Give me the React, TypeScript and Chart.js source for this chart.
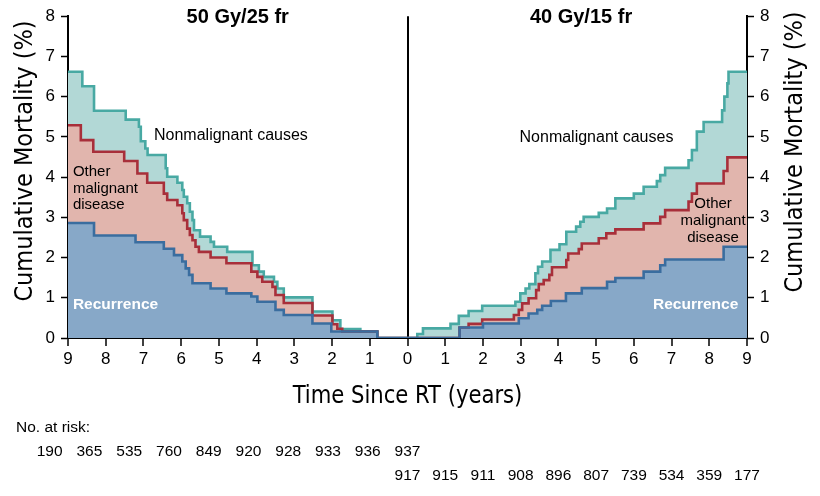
import { useEffect, useRef } from 'react';
import { Chart, registerables } from 'chart.js';

Chart.register(...registerables);

// ---- data (years since RT, cumulative mortality %) ----
// left panel: 50 Gy/25 fr (time runs right-to-left)
const leftBlueT = [0.8, 2.02, 2.52, 3.28, 3.5, 3.98, 4.14, 4.8, 5.22, 5.7, 5.79, 5.88, 5.97, 6.19, 6.46, 7.21, 8.31];
const leftBlueV = [0.16, 0.36, 0.57, 0.7, 0.9, 1.03, 1.11, 1.23, 1.36, 1.57, 1.73, 1.9, 2.06, 2.22, 2.38, 2.55, 2.86];

const leftRedT = [0.8, 1.73, 1.86, 1.99, 2.52, 3.28, 3.5, 3.58, 3.85, 3.98, 4.14, 4.8, 5.22, 5.53, 5.62, 5.7, 5.77, 5.84, 5.93, 5.97, 6.1, 6.37, 6.46, 6.9, 7.16, 7.51, 8.33, 8.66];
const leftRedV = [0.16, 0.23, 0.34, 0.56, 0.87, 1.07, 1.27, 1.4, 1.52, 1.65, 1.86, 2.0, 2.14, 2.27, 2.43, 2.56, 2.72, 2.93, 3.1, 3.3, 3.43, 3.59, 3.86, 4.09, 4.4, 4.63, 4.92, 5.29];

const leftTealT = [0.8, 1.25, 1.78, 1.99, 2.52, 3.28, 3.45, 3.54, 3.81, 3.94, 4.11, 4.78, 5.13, 5.22, 5.5, 5.66, 5.7, 5.77, 5.84, 5.93, 5.97, 6.1, 6.37, 6.41, 6.89, 6.95, 7.07, 7.12, 7.47, 8.31, 8.62];
const leftTealV = [0.16, 0.22, 0.44, 0.66, 1.01, 1.23, 1.4, 1.52, 1.65, 1.81, 2.14, 2.27, 2.39, 2.52, 2.68, 2.93, 3.14, 3.35, 3.51, 3.68, 3.86, 4.01, 4.22, 4.55, 4.71, 4.89, 5.25, 5.43, 5.65, 6.26, 6.62];

// right panel: 40 Gy/15 fr
const rightBlueT = [1.38, 2.0, 2.95, 3.21, 3.44, 3.57, 3.8, 4.2, 4.62, 5.29, 5.51, 6.26, 6.7, 6.83, 8.38];
const rightBlueV = [0.26, 0.36, 0.49, 0.61, 0.7, 0.8, 0.92, 1.11, 1.24, 1.4, 1.49, 1.65, 1.81, 1.95, 2.27];

const rightRedT = [1.38, 1.62, 1.98, 2.82, 2.95, 3.04, 3.21, 3.41, 3.48, 3.61, 3.76, 3.83, 4.21, 4.26, 4.54, 4.62, 5.07, 5.27, 5.51, 6.26, 6.7, 6.83, 7.45, 7.54, 7.67, 8.38, 8.48];
const rightRedV = [0.26, 0.35, 0.46, 0.57, 0.7, 0.86, 0.99, 1.19, 1.34, 1.44, 1.57, 1.76, 1.94, 2.1, 2.21, 2.35, 2.48, 2.6, 2.7, 2.85, 3.01, 3.18, 3.39, 3.59, 3.84, 4.15, 4.49];

const rightTealT = [0.26, 0.41, 1.14, 1.36, 1.62, 1.98, 2.86, 2.99, 3.13, 3.23, 3.39, 3.46, 3.57, 3.79, 4.03, 4.21, 4.47, 4.58, 4.67, 5.07, 5.29, 5.51, 6.0, 6.26, 6.61, 6.7, 6.83, 7.45, 7.54, 7.67, 7.85, 8.34, 8.4, 8.48, 8.51];
const rightTealV = [0.1, 0.24, 0.35, 0.55, 0.67, 0.8, 0.9, 1.11, 1.23, 1.34, 1.61, 1.77, 1.9, 2.19, 2.33, 2.64, 2.77, 2.89, 3.01, 3.11, 3.22, 3.47, 3.59, 3.76, 3.9, 4.05, 4.23, 4.42, 4.67, 5.13, 5.37, 5.66, 6.0, 6.33, 6.62];

const yTicks = [0, 1, 2, 3, 4, 5, 6, 7, 8];
const atRiskLeft = [190, 365, 535, 760, 849, 920, 928, 933, 936, 937]; // at 9..0 years
const atRiskRight = [917, 915, 911, 908, 896, 807, 739, 534, 359, 177]; // at 0..9 years

const BLUE_LINE = '#3a6d9f';
const BLUE_FILL = '#87a8c8';
const RED_LINE = '#a82f3a';
const RED_FILL = '#e1b5ad';
const TEAL_LINE = '#48a9a3';
const TEAL_FILL = '#b2d8d6';

const SANS = '"Liberation Sans", Arial, sans-serif';
const NARROW = '"Liberation Sans Narrow", "DejaVu Sans Condensed", "Liberation Sans", sans-serif';

// left side: x = -t, value holds for t in [t_i, t_i+1)
const leftPoints = (ts: number[], vs: number[]) => {
  const pts = [{ x: -9, y: vs[vs.length - 1] }];
  for (let i = ts.length - 1; i >= 0; i--) pts.push({ x: -ts[i], y: vs[i] });
  pts.push({ x: 0, y: 0 });
  return pts;
};

const rightPoints = (ts: number[], vs: number[]) => {
  const pts = [{ x: 0, y: 0 }];
  ts.forEach((t, i) => pts.push({ x: t, y: vs[i] }));
  pts.push({ x: 9, y: vs[vs.length - 1] });
  return pts;
};

const series = (data: { x: number; y: number }[], line: string, fill: string, stepped: 'before' | 'after') => ({
  data,
  borderColor: line,
  backgroundColor: fill,
  borderWidth: 2.6,
  pointRadius: 0,
  fill: 'origin',
  stepped,
});

const textPlugin = {
  id: 'panelText',
  afterDraw(chart: Chart) {
    const { ctx } = chart;
    const xs = chart.scales.x;
    const ys = chart.scales.y;
    const px = (v: number) => xs.getPixelForValue(v);
    const py = (v: number) => ys.getPixelForValue(v);
    ctx.save();
    ctx.fillStyle = '#000';
    ctx.textBaseline = 'middle';

    // panel titles
    ctx.font = `bold 20px ${SANS}`;
    ctx.textAlign = 'center';
    ctx.fillText('50 Gy/25 fr', px(-4.5), 17);
    ctx.fillText('40 Gy/15 fr', px(4.6), 17);

    // axis titles
    ctx.font = `25px ${NARROW}`;
    ctx.save();
    ctx.translate(px(0), 396);
    ctx.scale(0.94, 1);
    ctx.fillText('Time Since RT (years)', 0, 0);
    ctx.restore();
    ctx.save();
    ctx.translate(25, 161);
    ctx.rotate(-Math.PI / 2);
    ctx.fillText('Cumulative Mortality (%)', 0, 0);
    ctx.restore();
    ctx.save();
    ctx.translate(795, 152);
    ctx.rotate(-Math.PI / 2);
    ctx.fillText('Cumulative Mortality (%)', 0, 0);
    ctx.restore();

    // area labels
    ctx.font = `16px ${SANS}`;
    ctx.textAlign = 'left';
    ctx.fillText('Nonmalignant causes', px(-6.72), py(5.02));
    ctx.fillText('Nonmalignant causes', px(2.97), py(4.97));

    ctx.font = `15px ${SANS}`;
    ['Other', 'malignant', 'disease'].forEach((s, i) => {
      ctx.textAlign = 'left';
      ctx.fillText(s, px(-8.87), py(4.14 - i * 0.42));
      ctx.textAlign = 'center';
      ctx.fillText(s, px(8.1), py(3.34 - i * 0.42));
    });

    ctx.font = `bold 15.5px ${SANS}`;
    ctx.fillStyle = '#fff';
    ctx.textAlign = 'left';
    ctx.fillText('Recurrence', px(-8.87), py(0.82));
    ctx.textAlign = 'right';
    ctx.fillText('Recurrence', px(8.77), py(0.82));

    // numbers at risk
    ctx.fillStyle = '#000';
    ctx.font = `15.5px ${SANS}`;
    ctx.textAlign = 'left';
    ctx.fillText('No. at risk:', 16, 428);
    ctx.textAlign = 'center';
    const step = px(1) - px(0);
    atRiskLeft.forEach((n, i) => {
      ctx.fillText(String(n), px(0) - (atRiskLeft.length - 1 - i) * step * 1.054, 452);
    });
    atRiskRight.forEach((n, i) => {
      ctx.fillText(String(n), px(i), 476);
    });
    ctx.restore();
  },
};

export default function App() {
  const canvasRef = useRef<HTMLCanvasElement>(null);

  useEffect(() => {
    if (!canvasRef.current) return;
    const chart = new Chart(canvasRef.current, {
      type: 'line',
      data: {
        datasets: [
          series(leftPoints(leftBlueT, leftBlueV), BLUE_LINE, BLUE_FILL, 'after'),
          series(rightPoints(rightBlueT, rightBlueV), BLUE_LINE, BLUE_FILL, 'before'),
          series(leftPoints(leftRedT, leftRedV), RED_LINE, RED_FILL, 'after'),
          series(rightPoints(rightRedT, rightRedV), RED_LINE, RED_FILL, 'before'),
          series(leftPoints(leftTealT, leftTealV), TEAL_LINE, TEAL_FILL, 'after'),
          series(rightPoints(rightTealT, rightTealV), TEAL_LINE, TEAL_FILL, 'before'),
        ] as any,
      },
      options: {
        responsive: false,
        maintainAspectRatio: false,
        animation: false,
        layout: { padding: { top: 16, left: 0, right: 0, bottom: 0 } },
        plugins: {
          legend: { display: false },
          tooltip: { enabled: false },
          filler: { drawTime: 'beforeDatasetsDraw' },
        } as any,
        scales: {
          x: {
            type: 'linear',
            min: -9,
            max: 9,
            afterFit: (s: any) => {
              s.height = 158;
            },
            ticks: {
              stepSize: 1,
              autoSkip: false,
              maxRotation: 0,
              padding: 3,
              color: '#000',
              font: { size: 17, family: SANS },
              callback: (v: any) => String(Math.abs(Number(v))),
            },
            grid: {
              drawOnChartArea: true,
              color: (c: any) => (c.tick && c.tick.value === 0 ? '#000' : 'rgba(0,0,0,0)'),
              lineWidth: 2,
              tickColor: '#000',
              tickLength: 8,
              tickWidth: 1.5,
            },
            border: { display: true, color: '#000', width: 2 },
          },
          y: {
            position: 'left',
            min: 0,
            max: 8,
            afterFit: (s: any) => {
              s.width = 68;
            },
            afterBuildTicks: (s: any) => {
              s.ticks = yTicks.map((v) => ({ value: v }));
            },
            ticks: { padding: 6, color: '#000', font: { size: 17, family: SANS } },
            grid: { drawOnChartArea: false, tickColor: '#000', tickLength: 7, tickWidth: 1.5 },
            border: { display: true, color: '#000', width: 2 },
          },
          y2: {
            position: 'right',
            min: 0,
            max: 8,
            afterFit: (s: any) => {
              s.width = 73;
            },
            afterBuildTicks: (s: any) => {
              s.ticks = yTicks.map((v) => ({ value: v }));
            },
            ticks: { padding: 6, color: '#000', font: { size: 17, family: SANS } },
            grid: { drawOnChartArea: false, tickColor: '#000', tickLength: 7, tickWidth: 1.5 },
            border: { display: true, color: '#000', width: 2 },
          },
        },
      } as any,
      plugins: [textPlugin],
    });
    return () => chart.destroy();
  }, []);

  return (
    <div style={{ position: 'absolute', left: 0, top: 0, width: 820, height: 496, background: '#fff' }}>
      <canvas ref={canvasRef} width={820} height={496} />
    </div>
  );
}
